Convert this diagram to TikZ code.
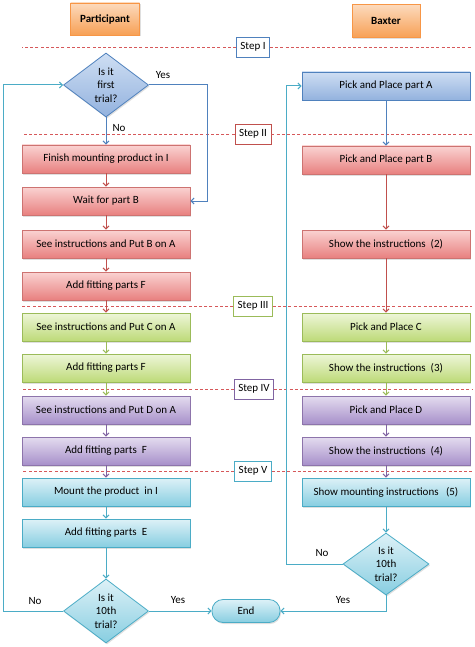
\documentclass[tikz,border=0pt]{standalone}
\usepackage{fontspec}
\setmainfont{Carlito}
\usetikzlibrary{shapes.geometric,arrows.meta,shadows}
\definecolor{redB}{HTML}{C0504D}\definecolor{redT}{HTML}{FAD3D2}\definecolor{redD}{HTML}{E8807F}
\definecolor{grnB}{HTML}{9BBB59}\definecolor{grnT}{HTML}{EEF6D9}\definecolor{grnD}{HTML}{BDDA78}
\definecolor{purB}{HTML}{8064A2}\definecolor{purT}{HTML}{E4DCEF}\definecolor{purD}{HTML}{A790CA}
\definecolor{cyaB}{HTML}{4BACC6}\definecolor{cyaT}{HTML}{DDF1F7}\definecolor{cyaD}{HTML}{88CEE1}
\definecolor{bluB}{HTML}{4F81BD}\definecolor{bluT}{HTML}{CEDEF3}\definecolor{bluD}{HTML}{93B2DE}
\definecolor{oraB}{HTML}{F79646}\definecolor{oraT}{HTML}{FCDABD}\definecolor{oraD}{HTML}{F7A055}
\definecolor{dashc}{HTML}{D6585A}
\tikzset{
  shad/.style={drop shadow={shadow xshift=1pt,shadow yshift=-1.5pt,opacity=0.25}},
  box/.style={rectangle,minimum width=168pt,minimum height=28pt,inner sep=2pt,shad,line width=0.8pt},
  rbox/.style={box,draw=redB!80,top color=redT,bottom color=redD},
  gbox/.style={box,draw=grnB,top color=grnT,bottom color=grnD},
  vbox/.style={box,draw=purB!90,top color=purT,bottom color=purD},
  cbox/.style={box,draw=cyaB,top color=cyaT,bottom color=cyaD},
  bbox/.style={box,draw=bluB,top color=bluT,bottom color=bluD},
  obox/.style={rectangle,minimum width=69pt,minimum height=32pt,draw=oraB,top color=oraT,bottom color=oraD,shad,font=\fontsize{11}{13}\selectfont\bfseries,line width=0.8pt},
  stepbox/.style={rectangle,draw=#1,fill=white,line width=0.8pt,minimum height=20pt,inner xsep=4pt},
  stepline/.style={dashc,dash pattern=on 3pt off 2.2pt,line width=0.7pt},
  dia/.style={diamond,minimum width=85pt,minimum height=64pt,inner sep=0pt,shad,line width=0.8pt},
  dlab/.style={align=center,font=\fontsize{11}{13.5}\selectfont},
  conn/.style={line width=1pt,-{Straight Barb[length=3pt,width=6pt]}},
  lab/.style={inner sep=1pt}
}
\begin{document}
\begin{tikzpicture}[x=1pt,y=-1pt,font=\fontsize{11}{13}\selectfont]
\useasboundingbox (0,0) rectangle (474,647);
\coordinate (L) at (22,0);
\coordinate (R) at (472,0);
\coordinate (lx) at (3,0);
\coordinate (yx) at (207,0);
\coordinate (rx) at (286,0);

% headers
\node[obox] (part) at (105,19) {Participant};
\node[obox,minimum width=68pt,minimum height=33pt] (bax) at (386,21) {Baxter};

% steps
\node[stepbox=bluB] (s1) at (253,47) {Step I};
\node[stepbox=redB] (s2) at (253,134) {Step II};
\node[stepbox=grnB] (s3) at (253,306) {Step III};
\node[stepbox=purB] (s4) at (254,389) {Step IV};
\node[stepbox=cyaB] (s5) at (253,471) {Step V};
\foreach \s in {s1,s2,s3,s4,s5}{
  \draw[stepline] (\s.west) -- (\s.west -| L);
  \draw[stepline] (\s.east) -- (\s.east -| R);
}

% participant column
\node[dia,draw=bluB,top color=bluT,bottom color=bluD,label={[dlab]center:Is it\\first\\trial?}] (d1) at (106,85) {};
\node[rbox] (fin) at (106,159) {Finish mounting product in I};
\node[rbox] (wait) at (106,201) {Wait for part B};
\node[rbox] (putb) at (106,244) {See instructions and Put B on A};
\node[rbox] (f1) at (106,286) {Add fitting parts F};
\node[gbox] (putc) at (106,327) {See instructions and Put C on A};
\node[gbox] (f2) at (106,368) {Add fitting parts F};
\node[vbox] (putd) at (106,410) {See instructions and Put D on A};
\node[vbox] (f3) at (106,451) {Add fitting parts\ \ F};
\node[cbox] (mount) at (106,492) {Mount the product\ \ in I};
\node[cbox] (fe) at (106,533) {Add fitting parts\ \ E};
\node[dia,draw=cyaB,top color=cyaT,bottom color=cyaD,label={[dlab]center:Is it\\10th\\trial?}] (d2) at (106,611) {};

% baxter column
\node[bbox] (pa) at (386,86) {Pick and Place part A};
\node[rbox] (pb) at (386,160) {Pick and Place part B};
\node[rbox] (sh2) at (386,244) {Show the instructions\ \ (2)};
\node[gbox] (pc) at (386,327) {Pick and Place C};
\node[gbox] (sh3) at (386,368) {Show the instructions\ \ (3)};
\node[vbox] (pd) at (386,410) {Pick and Place D};
\node[vbox] (sh4) at (386,451) {Show the instructions\ \ (4)};
\node[cbox] (sh5) at (386,492) {Show mounting instructions\ \ \ (5)};
\node[dia,minimum width=86pt,minimum height=62pt,draw=cyaB,top color=cyaT,bottom color=cyaD,label={[dlab]center:Is it\\10th\\trial?}] (d3) at (386,564) {};

% end
\node[rectangle,rounded corners=11pt,minimum width=68pt,minimum height=23pt,draw=cyaB,top color=cyaT,bottom color=cyaD,shad,line width=0.8pt] (end) at (246,611) {End};

% connectors participant
\draw[conn,bluB] (d1.south) -- (fin.north);
\node[lab] at (119,128) {No};
\draw[conn,bluB] (d1.east) -- (d1.east -| yx) |- (wait.east);
\node[lab] at (163,75) {Yes};
\draw[conn,redB] (fin) -- (wait);
\draw[conn,redB] (wait) -- (putb);
\draw[conn,redB] (putb) -- (f1);
\draw[conn,redB] (f1) -- (putc);
\draw[conn,grnB] (putc) -- (f2);
\draw[conn,grnB] (f2) -- (putd);
\draw[conn,purB] (putd) -- (f3);
\draw[conn,purB] (f3) -- (mount);
\draw[conn,cyaB] (mount) -- (fe);
\draw[conn,cyaB] (fe.south) -- (d2.north);
\draw[conn,cyaB] (d2.west) -- (d2.west -| lx) |- (d1.west);
\node[lab] at (35,601) {No};
\draw[conn,cyaB] (d2.east) -- (end.west);
\node[lab] at (178,600) {Yes};

% connectors baxter
\draw[conn,bluB] (pa) -- (pb);
\draw[conn,redB] (pb) -- (sh2);
\draw[conn,redB] (sh2) -- (pc);
\draw[conn,grnB] (pc) -- (sh3);
\draw[conn,grnB] (sh3) -- (pd);
\draw[conn,purB] (pd) -- (sh4);
\draw[conn,purB] (sh4) -- (sh5);
\draw[conn,cyaB] (sh5.south) -- (d3.north);
\draw[conn,cyaB] (d3.west) -- (d3.west -| rx) |- (pa.west);
\node[lab] at (322,553) {No};
\draw[conn,cyaB] (d3.south) |- (end.east);
\node[lab] at (343,600) {Yes};
\end{tikzpicture}
\end{document}
